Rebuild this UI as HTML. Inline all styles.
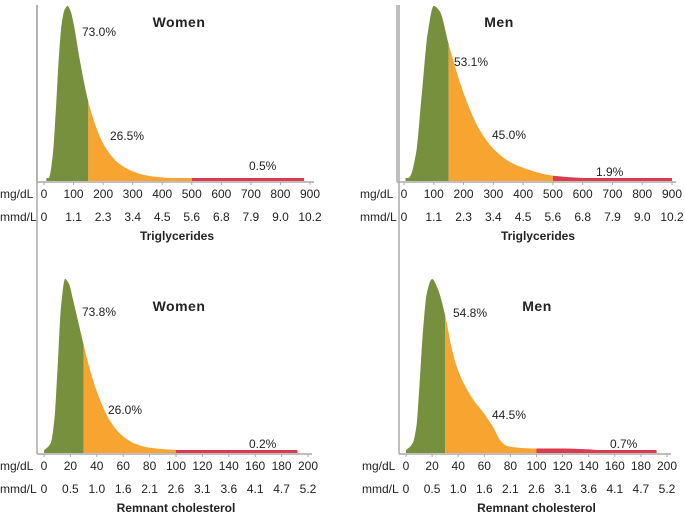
<!DOCTYPE html>
<html><head><meta charset="utf-8"><style>
body{margin:0;background:#fff;}
svg{display:block;font-family:"Liberation Sans",sans-serif;}
</style></head><body>
<svg id="c" width="685" height="514" viewBox="0 0 685 514"></svg>
<script>
const tgTicks=[0,100,200,300,400,500,600,700,800,900];
const tgMmol=["0","1.1","2.3","3.4","4.5","5.6","6.8","7.9","9.0","10.2"];
const rcTicks=[0,20,40,60,80,100,120,140,160,180,200];
const rcMmol=["0","0.5","1.0","1.6","2.1","2.6","3.1","3.6","4.1","4.7","5.2"];
const wTgX=[8,15,20,30,40,50,60,70,80,90,100,120,150,175,200,250,300,350,400,500,600,700,880];
const wTgY=[0,0.005,0.03,0.15,0.4,0.7,0.9,0.98,1.0,0.97,0.9,0.7,0.45,0.31,0.21,0.1,0.05,0.025,0.015,0.006,0.004,0.003,0.003];
const mTgX=[5,20,40,60,80,100,120,150,200,250,300,350,400,500,600,700,900];
const mTgY=[0,0.02,0.15,0.5,0.85,1.0,0.97,0.78,0.5,0.3,0.18,0.11,0.07,0.025,0.012,0.007,0.004];
const wRcX=[0,5,8,10,13,16,19,22,26,30,35,40,50,60,70,80,100,120,150,192];
const wRcY=[0.01,0.05,0.2,0.45,0.85,1.0,0.97,0.88,0.75,0.62,0.47,0.35,0.18,0.09,0.045,0.025,0.012,0.008,0.007,0.006];
const mRcX=[0,5,8,10,13,16,20,24,30,35,40,50,60,67,72,76,80,100,120,140,150,192];
const mRcY=[0.01,0.05,0.15,0.35,0.7,0.92,1.0,0.95,0.79,0.6,0.47,0.32,0.22,0.14,0.07,0.04,0.03,0.02,0.02,0.015,0.01,0.008];
const panels=[
 {name:"women-triglycerides",ax:37,x0:44,x1:310,max:900,base:181,h:174,ticks:tgTicks,mm:tgMmol,xs:wTgX,ys:wTgY,c1:150,c2:500,
  title:"Women",tx:179,ty:27,pct:["73.0%","26.5%","0.5%"],pp:[[82,36],[110,140],[249,170]],label:"Triglycerides"},
 {name:"men-triglycerides",ax:397,x0:404,x1:672,max:900,base:181,h:174,ticks:tgTicks,mm:tgMmol,xs:mTgX,ys:mTgY,c1:150,c2:500,
  title:"Men",tx:499,ty:27,pct:["53.1%","45.0%","1.9%"],pp:[[454,66],[492,139],[596,176]],label:"Triglycerides"},
 {name:"women-remnant",ax:37,x0:44,x1:308,max:200,base:453,h:173,ticks:rcTicks,mm:rcMmol,xs:wRcX,ys:wRcY,c1:30,c2:100,
  title:"Women",tx:179,ty:311,pct:["73.8%","26.0%","0.2%"],pp:[[82,316],[108,414],[249,448]],label:"Remnant cholesterol"},
 {name:"men-remnant",ax:399,x0:406,x1:667,max:200,base:453,h:173,ticks:rcTicks,mm:rcMmol,xs:mRcX,ys:mRcY,c1:30,c2:100,
  title:"Men",tx:537,ty:311,pct:["54.8%","44.5%","0.7%"],pp:[[453,317],[492,419],[610,448]],label:"Remnant cholesterol"}
];
const svg=document.getElementById('c');const NS="http://www.w3.org/2000/svg";
function mk(t,a,p){const e=document.createElementNS(NS,t);for(const k in a)e.setAttribute(k,a[k]);(p||svg).appendChild(e);return e;}
function slopes(xs,ys){const n=xs.length,d=[],m=[];
 for(let i=0;i<n-1;i++)d.push((ys[i+1]-ys[i])/(xs[i+1]-xs[i]));
 m[0]=d[0];m[n-1]=d[n-2];
 for(let i=1;i<n-1;i++){if(d[i-1]*d[i]<=0)m[i]=0;else{const w1=2*(xs[i+1]-xs[i])+(xs[i]-xs[i-1]),w2=(xs[i+1]-xs[i])+2*(xs[i]-xs[i-1]);m[i]=(w1+w2)/(w1/d[i-1]+w2/d[i]);}}
 return m;}
function interp(xs,ys,m,v){if(v<=xs[0])return ys[0];
 for(let i=1;i<xs.length;i++){if(v<=xs[i]){const h=xs[i]-xs[i-1],t=(v-xs[i-1])/h;
  const h00=2*t*t*t-3*t*t+1,h10=t*t*t-2*t*t+t,h01=-2*t*t*t+3*t*t,h11=t*t*t-t*t;
  return h00*ys[i-1]+h10*h*m[i-1]+h01*ys[i]+h11*h*m[i];}}
 return ys[ys.length-1];}
const cols=["#76903d","#f7a431","#db3a4f"];
panels.forEach(p=>{
 const g=mk('g',{});
 
 
 const sx=v=>p.x0+v/p.max*(p.x1-p.x0);
 const sy=d=>p.base-1-d*p.h;
 const m=slopes(p.xs,p.ys);
 const xmin=p.xs[0],xmax=p.xs[p.xs.length-1];
 const segs=[[xmin,p.c1],[p.c1,p.c2],[p.c2,xmax]];
 segs.forEach((s,i)=>{
  let pts=[];const n=150;
  for(let k=0;k<=n;k++){const v=s[0]+(s[1]-s[0])*k/n;let d=interp(p.xs,p.ys,m,v);pts.push(sx(v).toFixed(2)+','+Math.min(sy(d),p.base-3).toFixed(2));}
  pts.push(sx(s[1]).toFixed(2)+','+(p.base)); pts.push(sx(s[0]).toFixed(2)+','+(p.base));
  const e=mk('polygon',{points:pts.join(' '),fill:cols[i]},g);
  
  
 });
 mk('line',{x1:p.ax,y1:5,x2:p.ax,y2:p.base+1,stroke:'#aaa','stroke-width':1.5},g);
 mk('line',{x1:p.ax,y1:p.base+1,x2:p.x1+4,y2:p.base+1,stroke:'#aaa','stroke-width':1.5},g);
 p.ticks.forEach((t,i)=>{
  const x=sx(t);
  mk('line',{x1:x,y1:p.base+1,x2:x,y2:p.base+4,stroke:'#aaa'},g);
  const a=mk('text',{x:x,y:p.base+17,'text-anchor':'middle','font-size':12,fill:'#222'},g);a.textContent=t;
  
  const b=mk('text',{x:x,y:p.base+40,'text-anchor':'middle','font-size':12,fill:'#222'},g);b.textContent=p.mm[i];
  
 });
 const u1=mk('text',{x:p.ax-37,y:p.base+17,'font-size':12,fill:'#222'},g);u1.textContent='mg/dL';
 
 const u2=mk('text',{x:p.ax-37,y:p.base+40,'font-size':12,fill:'#222'},g);u2.textContent='mmd/L';
 
 const xl=mk('text',{x:(p.x0+p.x1)/2,y:p.base+59,'text-anchor':'middle','font-size':12,'font-weight':'bold',fill:'#222'},g);xl.textContent=p.label;
 
 const ti=mk('text',{x:p.tx,y:p.ty,'text-anchor':'middle','font-size':14,'font-weight':'bold',fill:'#222','letter-spacing':'0.5'},g);ti.textContent=p.title;
 
 p.pct.forEach((s,i)=>{const e=mk('text',{x:p.pp[i][0],y:p.pp[i][1],'font-size':12,fill:'#222'},g);e.textContent=s;
  });
});
</script>
</body></html>
